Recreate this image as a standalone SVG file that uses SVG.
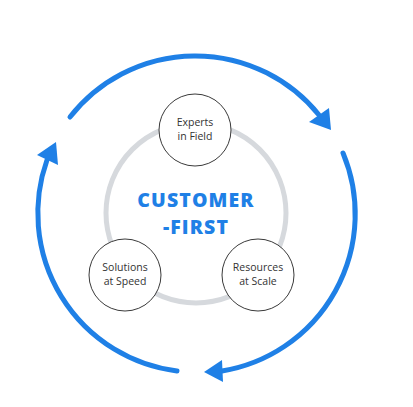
<svg xmlns="http://www.w3.org/2000/svg" width="413" height="407" viewBox="0 0 413 407">
<style>
.arc{fill:none;stroke:#1f80e6;stroke-width:5;stroke-linecap:round}
.head{fill:#1f80e6}
.node{fill:#fff;stroke:#3a3a3a;stroke-width:1}
.lbl{font-family:"Open Sans","Noto Sans",sans-serif;font-size:10.5px;fill:#333;text-anchor:middle}
.title{font-family:"Open Sans","Noto Sans",sans-serif;font-size:19.5px;font-weight:800;letter-spacing:1.1px;fill:#1f80e6;text-anchor:middle}
</style>
<rect width="413" height="407" fill="#fff"/>
<g id="connectors">
<path class="arc" d="M70,117 A159,159 0 0,1 319,115"/>
<polygon class="head" points="309,122 329,108 331,130"/>
<path class="arc" d="M343,153 A159,159 0 0,1 222,371"/>
<polygon class="head" points="222,360 223,382 204,372"/>
<path class="arc" d="M177,371 A159,159 0 0,1 47,160"/>
<polygon class="head" points="37,155 58,165 56,142"/>
</g>
<g id="core">
<circle cx="196" cy="213" r="90" fill="none" stroke="#d6d9dd" stroke-width="5"/>
<text class="title" x="196" y="207">CUSTOMER</text>
<text class="title" x="196" y="234">-FIRST</text>
</g>
<g id="experts">
<circle class="node" cx="195" cy="130" r="36"/>
<text class="lbl" x="195" y="126">Experts</text>
<text class="lbl" x="195" y="140">in Field</text>
</g>
<g id="solutions">
<circle class="node" cx="125" cy="275" r="36"/>
<text class="lbl" x="125" y="271">Solutions</text>
<text class="lbl" x="125" y="285">at Speed</text>
</g>
<g id="resources">
<circle class="node" cx="258" cy="275" r="36"/>
<text class="lbl" x="258" y="271">Resources</text>
<text class="lbl" x="258" y="285">at Scale</text>
</g>
</svg>
